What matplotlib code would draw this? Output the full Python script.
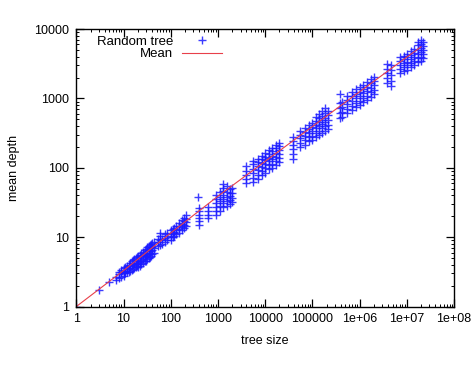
import numpy as np
import matplotlib
matplotlib.use("Agg")
import matplotlib.pyplot as plt
import matplotlib.ticker as mticker

plt.rcParams["font.family"] = ["Liberation Sans", "DejaVu Sans"]
plt.rcParams["font.size"] = 9

# ---------------------------------------------------------------
# data: columns of samples (tree size -> depths)
# ---------------------------------------------------------------
col_sizes = [
    1, 3, 5, 7, 8, 9, 10, 11, 12, 13, 14, 15, 16, 17, 18, 19, 20, 22, 24, 26,
    28, 30, 32, 34, 36, 38, 40, 44,
    55, 60, 65, 75, 85, 100, 110, 120, 130, 150, 170, 190, 210,
    380, 400, 600, 900, 1100, 1300, 1550, 1800, 2000,
    4000, 5500, 7000, 8500, 10000, 12000, 14000, 17000, 20000,
    38000, 55000, 70000, 85000, 100000, 120000, 140000, 160000, 185000, 210000,
    380000, 420000, 550000, 700000, 850000, 1000000, 1200000, 1400000, 1700000, 2000000,
    3800000, 4600000, 7000000, 8500000, 10000000, 12000000, 14000000, 17000000,
    20000000, 22000000,
]
col_depths = [
    [1], [1.75], [2.25], [2.4, 2.65], [2.6, 2.9, 3.1], [2.7, 3.1, 3.4], [2.8, 3.0, 3.3, 3.6],
    [3.0, 3.3, 3.7], [3.1, 3.5, 3.9], [3.2, 3.6, 4.0], [3.3, 3.8, 4.3], [3.4, 4.0, 4.5],
    [3.5, 4.1, 4.7], [3.6, 4.2, 4.9], [3.7, 4.3, 5.0], [3.8, 4.5, 5.2],
    [3.7, 4.1, 4.6, 5.3], [3.9, 4.4, 5.0, 5.6], [4.1, 4.7, 5.3, 5.9], [4.3, 4.9, 5.6, 6.2],
    [4.5, 5.1, 5.8, 6.5], [4.6, 5.3, 6.0, 6.8], [4.8, 5.5, 6.3, 7.1], [5.0, 5.8, 6.6, 7.4],
    [5.2, 6.0, 6.9, 7.8], [5.4, 6.3, 7.2, 8.1], [5.8, 6.5, 7.3, 8.3], [6.0, 7.0, 8.4],
    [7.5, 8.5, 9.5], [7.8, 9.0, 10.5, 11.5], [8.0, 9.5], [8.5, 9.8, 11.0],
    [9.2, 10.5, 11.5], [9.0, 10.0, 11.0, 12.5], [10.0, 11.5, 13.0], [10.5, 12.0, 13.5],
    [11.0, 12.5, 14.5], [11.5, 13.0, 14.5, 16.0], [12.5, 14.0, 15.5, 17.5],
    [13.5, 15.0, 17.0, 19.0], [14.5, 16.5, 18.5, 21.0],
    [38], [15, 17, 19, 21, 24, 26], [19, 21, 24, 27], [21, 24, 27, 31, 35, 40],
    [24, 28, 33, 38, 45], [27, 31, 35, 40, 46, 52, 58], [28, 33, 38, 45, 55],
    [30, 34, 39, 44, 50], [32, 37, 43, 52],
    [60, 68, 78, 90, 105], [62, 72, 84, 97, 112, 125], [70, 80, 92, 105, 120, 135],
    [78, 90, 103, 118, 135, 150], [85, 98, 112, 128, 145, 165],
    [95, 108, 124, 140, 160, 180], [100, 115, 132, 150, 172, 195],
    [110, 127, 145, 165, 190, 215], [120, 138, 158, 180, 205, 230],
    [135, 160, 185, 215, 245, 275], [200, 230, 265, 300, 340], [215, 250, 285, 325, 370],
    [240, 275, 315, 360, 410], [250, 290, 335, 385, 440], [275, 320, 370, 420, 480, 540],
    [300, 345, 400, 460, 520, 590], [320, 370, 430, 490, 560, 650],
    [340, 400, 460, 530, 610, 720], [360, 420, 490, 570, 660],
    [530, 620, 720, 850, 1150], [540, 640, 760, 900], [610, 700, 820, 960, 1100],
    [680, 790, 920, 1070, 1250], [750, 870, 1010, 1170, 1350], [800, 930, 1080, 1250, 1450],
    [880, 1020, 1180, 1370, 1580], [950, 1100, 1280, 1480, 1720],
    [1050, 1220, 1420, 1650, 1900], [1150, 1330, 1550, 1800, 2050],
    [1650, 1950, 2300, 2700, 3100], [1500, 1800, 2150, 2550, 3000],
    [2300, 2650, 3000, 3450, 3900], [2450, 2800, 3200, 3650, 4150],
    [2600, 3000, 3400, 3900, 4400], [2800, 3200, 3700, 4200, 4800],
    [3000, 3450, 3950, 4550, 5200], [3300, 3800, 4350, 5000, 5800, 6500],
    [3500, 4000, 4600, 5300, 6100, 7000], [3800, 4300, 5000, 5700, 6500],
]

mean_size = [1, 10, 100, 1000, 10000, 100000, 1000000, 10000000, 20000000]
mean_depth = [1, 3.3, 11.5, 39, 124, 395, 1250, 3950, 5550]

x_ticks = [1, 10, 100, 1000, 10000, 100000, 1e6, 1e7, 1e8]
x_tick_labels = ["1", "10", "100", "1000", "10000", "100000", "1e+06", "1e+07", "1e+08"]
y_ticks = [1, 10, 100, 1000, 10000]
y_tick_labels = ["1", "10", "100", "1000", "10000"]

# flatten the columns into point arrays
pts_x = np.concatenate([[s] * len(d) for s, d in zip(col_sizes, col_depths)])
pts_y = np.concatenate([d for d in col_depths])

fig = plt.figure(figsize=(4.74, 3.68), dpi=100)
ax = fig.add_axes([0.161, 0.167, 0.797, 0.754])

ax.plot(pts_x, pts_y, linestyle="none", marker="+", color="#1a1aff",
        markersize=6, markeredgewidth=1.0, alpha=0.85, label="Random tree")
ax.plot(mean_size, mean_depth, color="#e8404a", linewidth=0.8, label="Mean")

ax.set_xscale("log")
ax.set_yscale("log")
ax.set_xlim(1, 1e8)
ax.set_ylim(1, 10000)

ax.set_xticks(x_ticks)
ax.set_xticklabels(x_tick_labels)
ax.set_yticks(y_ticks)
ax.set_yticklabels(y_tick_labels)
ax.xaxis.set_minor_locator(mticker.LogLocator(base=10, subs=np.arange(2, 10), numticks=20))
ax.yaxis.set_minor_locator(mticker.LogLocator(base=10, subs=np.arange(2, 10), numticks=20))
ax.xaxis.set_minor_formatter(mticker.NullFormatter())
ax.yaxis.set_minor_formatter(mticker.NullFormatter())

ax.tick_params(which="both", direction="in", top=True, right=True, colors="black", labelsize=9)
ax.tick_params(which="major", length=5.5, width=0.9, pad=5)
ax.tick_params(which="minor", length=2.5, width=0.7)
for sp in ax.spines.values():
    sp.set_linewidth(1.0)
    sp.set_color("black")

ax.set_xlabel("tree size", fontsize=9, labelpad=7)
ax.set_ylabel("mean depth", fontsize=9, labelpad=10)

ax.legend(loc="upper left", bbox_to_anchor=(0.054, 0.977), frameon=False,
          markerfirst=False, handlelength=3.0, handletextpad=0.7,
          borderaxespad=0, borderpad=0, labelspacing=0.02, fontsize=9.5)

plt.savefig("out.png", dpi=100)
